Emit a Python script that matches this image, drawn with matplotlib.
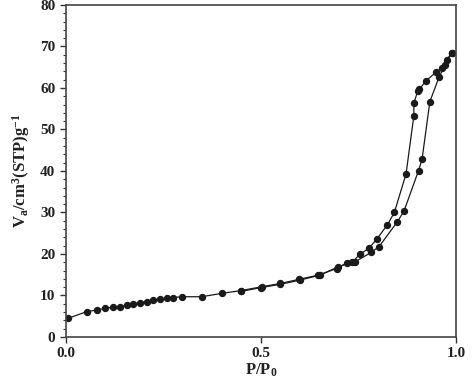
"""
N2 adsorption-desorption isotherm.
"""

import matplotlib
matplotlib.use("Agg")
import matplotlib.pyplot as plt
from matplotlib.ticker import MultipleLocator

# adsorption branch
ads_p = [0.006, 0.053, 0.079, 0.100, 0.121, 0.138, 0.156, 0.173, 0.190, 0.207,
         0.224, 0.241, 0.258, 0.275, 0.297, 0.348, 0.399, 0.450, 0.502, 0.550,
         0.598, 0.647, 0.694, 0.720, 0.741, 0.783, 0.803, 0.850, 0.867, 0.904,
         0.913, 0.933, 0.957, 0.972, 0.989]
ads_v = [4.5, 6.1, 6.5, 6.9, 7.2, 7.3, 7.7, 7.95, 8.3, 8.5,
         8.9, 9.1, 9.3, 9.5, 9.7, 9.7, 10.5, 11.2, 12.1, 12.9,
         13.9, 14.9, 16.5, 17.8, 18.1, 20.4, 21.8, 27.8, 30.4, 40.1,
         42.8, 56.7, 62.7, 65.5, 68.5]

# desorption branch
des_p = [0.989, 0.976, 0.963, 0.950, 0.923, 0.906, 0.902, 0.892, 0.892, 0.872,
         0.842, 0.824, 0.797, 0.778, 0.754, 0.734, 0.698, 0.651, 0.600, 0.550,
         0.500, 0.450]
des_v = [68.5, 66.7, 64.7, 63.9, 61.7, 59.7, 59.3, 56.3, 53.3, 39.3,
         30.0, 27.0, 23.6, 21.5, 19.9, 18.1, 16.9, 14.9, 13.7, 12.7,
         11.9, 11.0]

plt.rcParams['font.family'] = 'Liberation Serif'
plt.rcParams['font.weight'] = 'bold'
plt.rcParams['mathtext.default'] = 'regular'

fig = plt.figure(figsize=(4.74, 3.81), dpi=100)
ax = fig.add_axes([0.139, 0.1155, 0.823, 0.8715])

ax.plot(ads_p, ads_v, '-o', color='#1a1a1a', lw=0.9, ms=4.3)
ax.plot(des_p, des_v, '-o', color='#1a1a1a', lw=0.9, ms=4.3)

ax.set_xlim(0, 1.0)
ax.set_ylim(0, 80)
ax.set_xticks([0.0, 0.5, 1.0])
ax.set_xticklabels(['0.0', '0.5', '1.0'])
ax.yaxis.set_major_locator(MultipleLocator(10))
ax.yaxis.set_minor_locator(MultipleLocator(2))
ax.tick_params(axis='both', which='major', direction='out', length=4,
               width=1, labelsize=11, colors='#333333', labelcolor='#222222')
ax.tick_params(axis='x', which='major', pad=3)
ax.tick_params(axis='y', which='minor', direction='out', length=2, width=0.8,
               colors='#333333')

for s in ax.spines.values():
    s.set_color('#444444')
    s.set_linewidth(1.2)

ax.set_xlabel('P/P$_0$', fontsize=12, fontweight='bold', labelpad=1,
              color='#222222')
ax.set_ylabel('V$_a$/cm$^3$(STP)g$^{-1}$', fontsize=12, fontweight='bold',
              labelpad=6, color='#222222')

fig.savefig('out.png', dpi=100)
plt.close(fig)
